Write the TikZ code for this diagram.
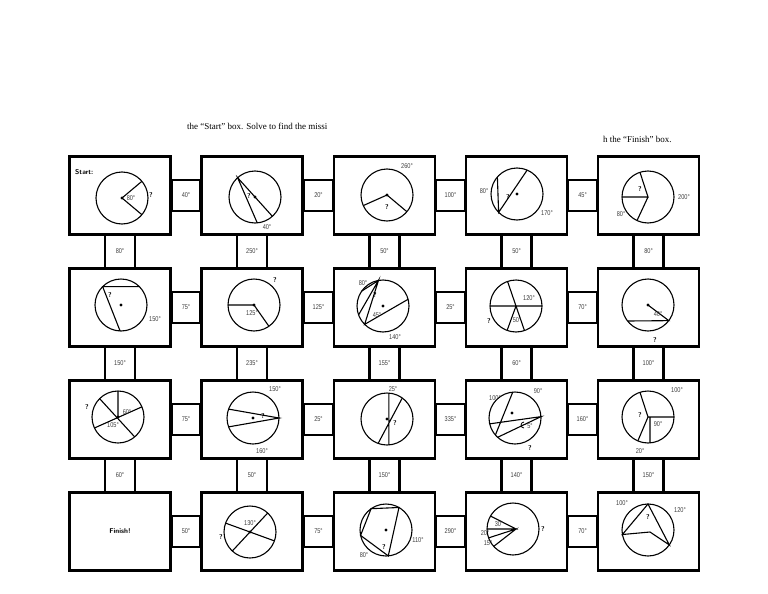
\documentclass[tikz,border=0pt]{standalone}
\usepackage{fontspec}
\setmainfont{Liberation Serif}
\newfontfamily\lab[FakeStretch=0.8]{Liberation Sans}
\begin{document}
\begin{tikzpicture}[x=1pt,y=-1pt,
  box/.style={draw,line width=2.6pt,minimum width=101pt,minimum height=78pt,inner sep=0,fill=white},
  hc/.style={draw,line width=2.6pt,minimum width=30pt,minimum height=31pt,inner sep=0,font=\lab\fontsize{7}{8}\selectfont},
  vc/.style={draw,line width=2.6pt,minimum width=30pt,minimum height=34pt,inner sep=0,font=\lab\fontsize{7}{8}\selectfont},
  ln/.style={line width=1.1pt},
  t/.style={font=\lab\fontsize{7}{8}\selectfont,inner sep=0,text=black!75},
  q/.style={font=\sffamily\bfseries\fontsize{7}{8}\selectfont,inner sep=0}]
\useasboundingbox (0,0) rectangle (768,594);
\node[font=\fontsize{9}{10}\selectfont,anchor=west,inner sep=0] (h1) at (187,126) {the “Start” box. Solve to find the missi};
\node[font=\fontsize{9}{10}\selectfont,anchor=west,inner sep=0] (h2) at (603,139) {h the “Finish” box.};
% connectors
\foreach \x/\n in {186/1,318.5/2,450.5/3,582.5/4}{
  \foreach \y/\m in {195.5/1,307.5/2,419.5/3,531.5/4}{
    \node[hc,minimum width=29pt] (h\m\n) at (\x,\y) {};}}
\foreach \x/\n in {120/1,252/2,384.5/3,516.5/4,648.5/5}{
  \foreach \y/\m in {251.5/1,363.5/2,475.5/3}{
    \node[vc] (v\m\n) at (\x,\y) {};}}
% labels of connectors
\foreach \n/\l in {h11/40°,h12/20°,h13/100°,h14/45°,h21/75°,h22/125°,h23/25°,h24/70°,h31/75°,h32/25°,h33/335°,h34/160°,h41/50°,h42/75°,h43/290°,h44/70°,
 v11/80°,v12/250°,v13/50°,v14/50°,v15/80°,v21/150°,v22/235°,v23/155°,v24/60°,v25/100°,v31/60°,v32/50°,v33/150°,v34/140°,v35/150°}
  \node[t] at (\n) {\l};
% boxes
\foreach \x/\n in {120/1,252/2,384.5/3,516.5/4,648.5/5}{
  \foreach \y/\m in {195.5/1,307.5/2,419.5/3,531.5/4}{
    \node[box] (b\m\n) at (\x,\y) {};}}
\node[q,anchor=west] (st) at (75,172) {Start:};
\node[q] (fin) at (b41) {Finish!};
\def\R{26}
% R1C1
\begin{scope}[shift={(122,198)},y=1pt]
 \draw[ln] (0,0) circle (\R); \fill (0,0) circle (1.6);
 \draw[ln] (40:\R) -- (0,0) -- (-40:\R);
 \node[t] at (9,0) {80°}; \node[q] at (29,3) {?};
\end{scope}
% R1C2
\begin{scope}[shift={(255,197)},y=1pt]
 \draw[ln] (0,0) circle (\R); \fill (0,0) circle (1.6);
 \draw[ln] (-85:\R) -- (132:\R) -- (-48:\R);
 \node[q] at (-6,1) {?}; \node[t] at (12,-30) {40°};
\end{scope}
% R1C3
\begin{scope}[shift={(387,195)},y=1pt]
 \draw[ln] (0,0) circle (\R); \fill (0,0) circle (1.6);
 \draw[ln] (204:\R) -- (0,0) -- (-40:\R);
 \node[q] at (0,-12) {?}; \node[t] at (20,29) {260°};
\end{scope}
% R1C4
\begin{scope}[shift={(517,194)},y=1pt]
 \draw[ln] (0,0) circle (\R); \fill (0,0) circle (1.6);
 \draw[ln] (139:\R) -- (225:\R) -- (67:\R);
 \node[t] at (-33,3) {80°}; \node[q] at (-9,-3) {?}; \node[t] at (30,-19) {170°};
\end{scope}
% R1C5
\begin{scope}[shift={(648,197)},y=1pt]
 \draw[ln] (0,0) circle (\R);
 \draw[ln] (180:\R) -- (0,0) -- (108:\R) (0,0) -- (-115:\R);
 \node[q] at (-8,8) {?}; \node[t] at (-27,-17) {80°}; \node[t] at (36,0) {200°};
\end{scope}
% R2C1
\begin{scope}[shift={(121,305)},y=1pt]
 \draw[ln] (0,0) circle (\R); \fill (0,0) circle (1.6);
 \draw[ln] (45:\R) -- (135:\R) -- (-92:\R);
 \node[q] at (-11,10) {?}; \node[t] at (34,-14) {150°};
\end{scope}
% R2C2
\begin{scope}[shift={(254,305)},y=1pt]
 \draw[ln] (0,0) circle (\R); \fill (0,0) circle (1.6);
 \draw[ln] (180:\R) -- (0,0) -- (-55:\R);
 \node[t] at (-2,-8) {125°}; \node[q] at (21,25) {?};
\end{scope}
% R2C3
\begin{scope}[shift={(383,306)},y=1pt]
 \draw[ln] (0,0) circle (\R); \fill (0,0) circle (1.6);
 \draw[ln] (200:\R) -- (100:\R) -- (225:\R) -- (15:\R) (100:\R) -- (145:\R);
 \node[t] at (-20,23) {80°}; \node[q] at (-8,11) {?}; \node[t] at (-6,-9) {45°}; \node[t] at (12,-31) {140°};
\end{scope}
% R2C4
\begin{scope}[shift={(516,306)},y=1pt]
 \draw[ln] (0,0) circle (\R);
 \draw[ln] (180:\R) -- (0:\R) (109:\R) -- (-71:\R) (0,0) -- (-110:\R);
 \node[t] at (13,8) {120°}; \node[t] at (1,-14) {50°}; \node[q] at (-27,-15) {?};
\end{scope}
% R2C5
\begin{scope}[shift={(648,305)},y=1pt]
 \draw[ln] (0,0) circle (\R); \fill (0,0) circle (1.6);
 \draw[ln] (0,0) -- (-37:\R) -- (218:\R);
 \node[t] at (10,-9) {40°}; \node[q] at (7,-35) {?};
\end{scope}
% R3C1
\begin{scope}[shift={(118,417)},y=1pt]
 \draw[ln] (0,0) circle (\R); \fill (0,0) circle (1.6);
 \draw[ln] (0,0) -- (90:\R) (135:\R) -- (-50:\R) (23:\R) -- (205:\R);
 \node[t] at (9,5) {60°}; \node[t] at (-5,-8) {105°}; \node[q] at (-31,10) {?};
\end{scope}
% R3C2
\begin{scope}[shift={(253,418)},y=1pt]
 \draw[ln] (0,0) circle (\R); \fill (0,0) circle (1.6);
 \draw[ln] (160:\R) -- (0:\R) -- (200:\R);
 \node[q] at (10,2) {?}; \node[t] at (22,29) {150°}; \node[t] at (9,-33) {160°};
\end{scope}
% R3C3
\begin{scope}[shift={(387,419)},y=1pt]
 \draw[ln] (0,0) circle (\R); \fill (0,0) circle (1.6);
 \draw[ln] (86:\R) -- (-86:\R) (54:\R) -- (250:\R);
 \node[t] at (6,30) {25°}; \node[q] at (8,-4) {?};
\end{scope}
% R3C4
\begin{scope}[shift={(515,418)},y=1pt]
 \draw[ln] (0,0) circle (\R); \fill (-3,5) circle (1.6);
 \draw[ln] (95:\R) -- (221:\R) (193:\R) -- (3:\R) -- (228:\R);
 \draw[line width=0.8pt] (9,-4) arc (90:270:3);
 \node[t] at (-20,20) {100°}; \node[t] at (23,27) {90°}; \node[t] at (15,-8) {5°}; \node[q] at (15,-30) {?};
\end{scope}
% R3C5
\begin{scope}[shift={(648,417)},y=1pt]
 \draw[ln] (0,0) circle (\R);
 \draw[ln] (0:\R) -- (0,0) -- (108:\R) (0,0) -- (-113:\R) (2,0) -- (2,-25.9);
 \node[q] at (-8,2) {?}; \node[t] at (10,-7) {90°}; \node[t] at (29,27) {100°}; \node[t] at (-8,-34) {20°};
\end{scope}
% R4C2
\begin{scope}[shift={(250,532)},y=1pt]
 \draw[ln] (0,0) circle (\R); \fill (0,0) circle (1.6);
 \draw[ln] (160:\R) -- (-20:\R) (47:\R) -- (227:\R);
 \node[t] at (0,9) {130°}; \node[q] at (-29,-5) {?};
\end{scope}
% R4C3
\begin{scope}[shift={(386,530)},y=1pt]
 \draw[ln] (0,0) circle (\R); \fill (0,0) circle (1.6);
 \draw[ln] (125:\R) -- (60:\R) -- (-85:\R) -- (192:\R) -- cycle;
 \node[q] at (-2,-17) {?}; \node[t] at (32,-10) {110°}; \node[t] at (-22,-25) {80°};
\end{scope}
% R4C4
\begin{scope}[shift={(513,529)},y=1pt]
 \draw[ln] (0,0) circle (\R);
 \draw[ln] (150:\R) -- (3,0) -- (180:\R) (200:\R) -- (3,0) -- (222:\R);
 \node[t] at (-14,5) {30°}; \node[t] at (-28,-4) {20°}; \node[t] at (-25,-14) {15°}; \node[q] at (30,0) {?};
\end{scope}
% R4C5
\begin{scope}[shift={(648,530)},y=1pt]
 \draw[ln] (0,0) circle (\R);
 \draw[ln] (190:\R) -- (90:\R) -- (-35:\R) -- (2,-2) -- cycle;
 \node[q] at (0,13) {?}; \node[t] at (-26,27) {100°}; \node[t] at (32,20) {120°};
\end{scope}
\end{tikzpicture}
\end{document}
